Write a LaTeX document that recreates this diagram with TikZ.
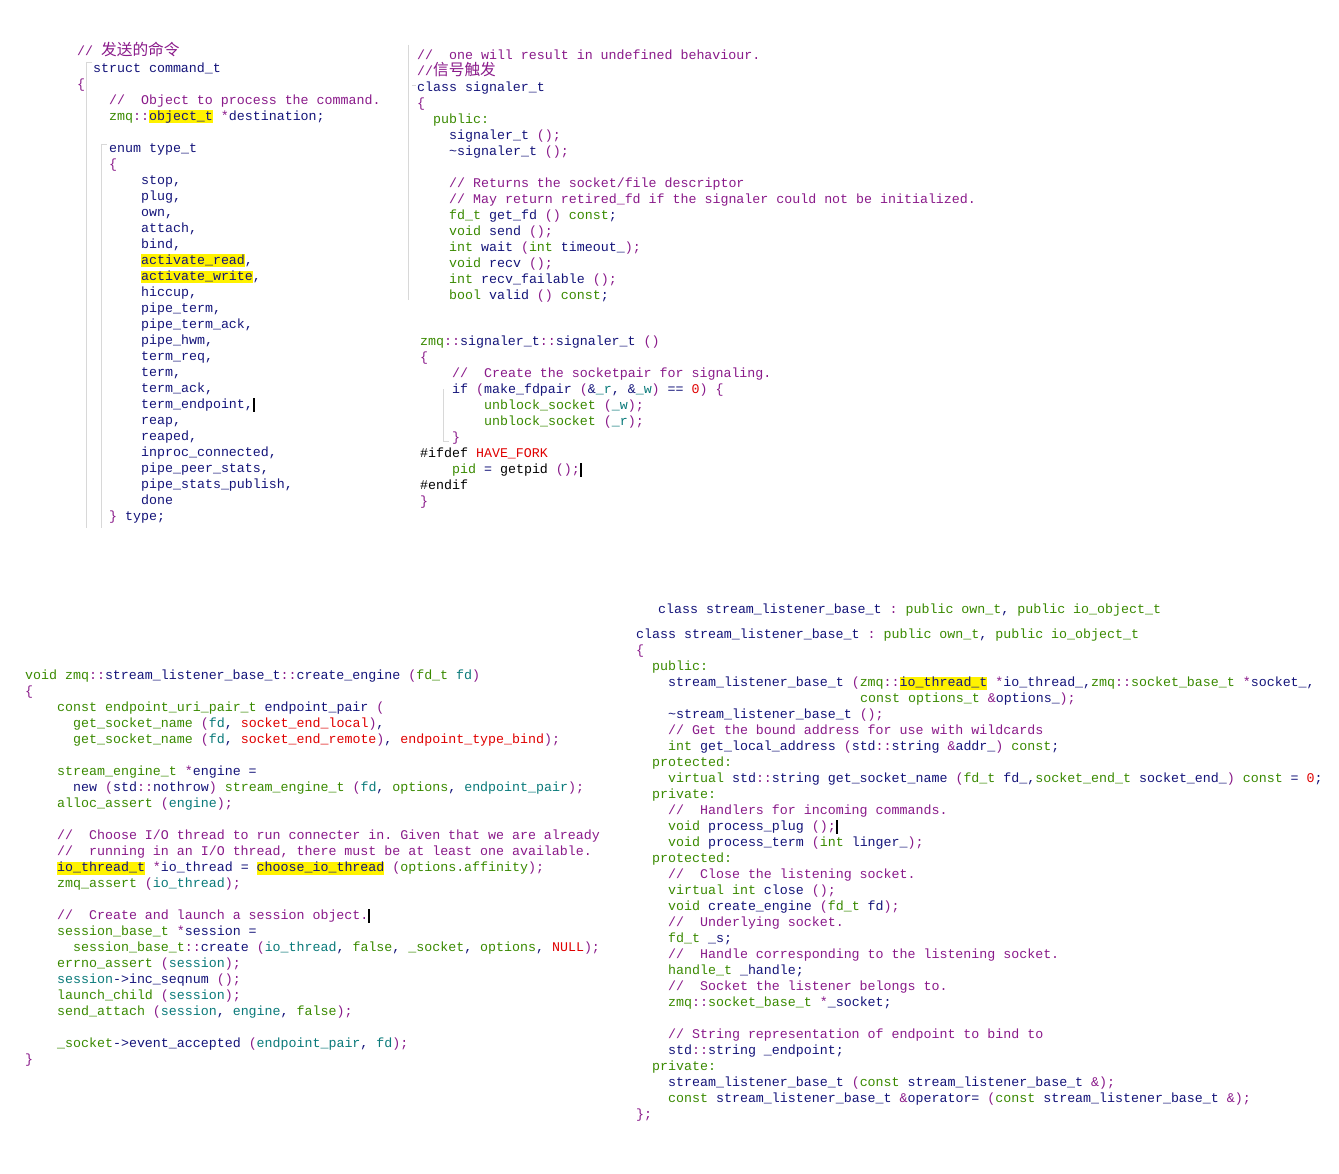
\documentclass[tikz,border=0pt]{standalone}
\usepackage{fontspec}
\setmonofont{Liberation Mono}
\newfontfamily\cjk[Scale=1.18]{Noto Sans CJK SC}
\definecolor{code}{HTML}{14147A}
\definecolor{cmtc}{HTML}{8A1A8A}
\definecolor{kwc}{HTML}{3A8A00}
\definecolor{tyc}{HTML}{0A7A7A}
\definecolor{rdc}{HTML}{E00000}
\definecolor{puc}{HTML}{8A1A8A}
\definecolor{guidec}{HTML}{D8D8D8}
\newcommand\Cm[1]{\textcolor{cmtc}{#1}}
\newcommand\Kw[1]{\textcolor{kwc}{#1}}
\newcommand\Ty[1]{\textcolor{tyc}{#1}}
\newcommand\Rd[1]{\textcolor{rdc}{#1}}
\newcommand\Pu[1]{\textcolor{puc}{#1}}
\newcommand\Hl[1]{{\setlength\fboxsep{0pt}\colorbox{yellow}{\rule[-3pt]{0pt}{13pt}#1}}}
\newcommand\Cur{\textcolor{black}{\rule[-3pt]{2pt}{14pt}}}
\tikzset{codeln/.style={anchor=base west,inner sep=0pt,text=code,font=\ttfamily\fontsize{13.3}{16}\selectfont},
guide/.style={draw=guidec,line width=0.8pt}}
\newcommand\cl[3]{\node[codeln] at (#1pt,-#2pt-4.5pt) {#3};}
\begin{document}
\begin{tikzpicture}[x=1pt,y=1pt]
\useasboundingbox[fill=white] (0,0) rectangle (1339,-1174);
% guides
\draw[guide] (86,-62) -- (86,-528);
\draw[guide] (86,-62) -- (92,-62);
\draw[guide] (101,-144) -- (101,-528);
\draw[guide] (101,-144) -- (107,-144);
\draw[guide] (408,-45) -- (408,-300);
\draw[guide] (412,-85) -- (416,-85);
\draw[guide] (443,-389) -- (443,-441);
\draw[guide] (443,-441) -- (449,-441);
% top-left
\cl{77}{51}{\Cm{// {\cjk 发送的命令}}}
\cl{93}{68}{struct command\_t}
\cl{77}{84}{\Pu{\{}}
\cl{109}{100}{\Cm{//\ \ Object to process the command.}}
\cl{109}{116}{\Kw{zmq}\Pu{::}\Hl{object\_t} \Pu{*}destination;}
\cl{109}{148}{enum type\_t}
\cl{109}{164}{\Pu{\{}}
\cl{141}{180}{stop,}
\cl{141}{196}{plug,}
\cl{141}{212}{own,}
\cl{141}{228}{attach,}
\cl{141}{244}{bind,}
\cl{141}{260}{\Hl{activate\_read},}
\cl{141}{276}{\Hl{activate\_write},}
\cl{141}{292}{hiccup,}
\cl{141}{308}{pipe\_term,}
\cl{141}{324}{pipe\_term\_ack,}
\cl{141}{340}{pipe\_hwm,}
\cl{141}{356}{term\_req,}
\cl{141}{372}{term,}
\cl{141}{388}{term\_ack,}
\cl{141}{404}{term\_endpoint,\Cur}
\cl{141}{420}{reap,}
\cl{141}{436}{reaped,}
\cl{141}{452}{inproc\_connected,}
\cl{141}{468}{pipe\_peer\_stats,}
\cl{141}{484}{pipe\_stats\_publish,}
\cl{141}{500}{done}
\cl{109}{516}{\Pu{\}} type;}
% top-right
\cl{417}{55}{\Cm{//\ \ one will result in undefined behaviour.}}
\cl{417}{71}{\Cm{//{\cjk 信号触发}}}
\cl{417}{87}{class signaler\_t}
\cl{417}{103}{\Pu{\{}}
\cl{433}{119}{\Kw{public:}}
\cl{449}{135}{signaler\_t \Pu{();}}
\cl{449}{151}{\string~signaler\_t \Pu{();}}
\cl{449}{183}{\Cm{// Returns the socket/file descriptor}}
\cl{449}{199}{\Cm{// May return retired\_fd if the signaler could not be initialized.}}
\cl{449}{215}{\Kw{fd\_t} get\_fd \Pu{()} \Kw{const};}
\cl{449}{231}{\Kw{void} send \Pu{();}}
\cl{449}{247}{\Kw{int} wait \Pu{(}\Kw{int} timeout\_\Pu{);}}
\cl{449}{263}{\Kw{void} recv \Pu{();}}
\cl{449}{279}{\Kw{int} recv\_failable \Pu{();}}
\cl{449}{295}{\Kw{bool} valid \Pu{()} \Kw{const};}
\cl{420}{341}{\Kw{zmq}\Pu{::}signaler\_t\Pu{::}signaler\_t \Pu{()}}
\cl{420}{357}{\Pu{\{}}
\cl{452}{373}{\Cm{//\ \ Create the socketpair for signaling.}}
\cl{452}{389}{if \Pu{(}make\_fdpair \Pu{(}\&\Ty{\_r}, \&\Ty{\_w}\Pu{)} == \Rd{0}\Pu{) \{}}
\cl{484}{405}{\Kw{unblock\_socket} \Pu{(}\Ty{\_w}\Pu{);}}
\cl{484}{421}{\Kw{unblock\_socket} \Pu{(}\Ty{\_r}\Pu{);}}
\cl{452}{437}{\Pu{\}}}
\cl{420}{453}{\textcolor{black}{\#ifdef} \Rd{HAVE\_FORK}}
\cl{452}{469}{\Kw{pid} = \textcolor{black}{getpid} \Pu{();}\Cur}
\cl{420}{485}{\textcolor{black}{\#endif}}
\cl{420}{501}{\Pu{\}}}
% bottom-left
\cl{25}{675}{\Kw{void} \Kw{zmq}\Pu{::}stream\_listener\_base\_t\Pu{::}create\_engine \Pu{(}\Kw{fd\_t} \Ty{fd}\Pu{)}}
\cl{25}{691}{\Pu{\{}}
\cl{57}{707}{\Kw{const endpoint\_uri\_pair\_t} endpoint\_pair \Pu{(}}
\cl{73}{723}{\Kw{get\_socket\_name} \Pu{(}\Ty{fd}, \Rd{socket\_end\_local}\Pu{)},}
\cl{73}{739}{\Kw{get\_socket\_name} \Pu{(}\Ty{fd}, \Rd{socket\_end\_remote}\Pu{)}, \Rd{endpoint\_type\_bind}\Pu{);}}
\cl{57}{771}{\Kw{stream\_engine\_t} \Pu{*}engine =}
\cl{73}{787}{new \Pu{(}std\Pu{::}nothrow\Pu{)} \Kw{stream\_engine\_t} \Pu{(}\Ty{fd}, \Kw{options}, \Ty{endpoint\_pair}\Pu{);}}
\cl{57}{803}{\Kw{alloc\_assert} \Pu{(}\Ty{engine}\Pu{);}}
\cl{57}{835}{\Cm{//\ \ Choose I/O thread to run connecter in. Given that we are already}}
\cl{57}{851}{\Cm{//\ \ running in an I/O thread, there must be at least one available.}}
\cl{57}{867}{\Hl{io\_thread\_t} \Pu{*}io\_thread = \Hl{choose\_io\_thread} \Pu{(}\Kw{options.affinity}\Pu{);}}
\cl{57}{883}{\Kw{zmq\_assert} \Pu{(}\Ty{io\_thread}\Pu{);}}
\cl{57}{915}{\Cm{//\ \ Create and launch a session object.}\Cur}
\cl{57}{931}{\Kw{session\_base\_t} \Pu{*}session =}
\cl{73}{947}{\Kw{session\_base\_t}\Pu{::}create \Pu{(}\Ty{io\_thread}, \Kw{false}, \Kw{\_socket}, \Kw{options}, \Rd{NULL}\Pu{);}}
\cl{57}{963}{\Kw{errno\_assert} \Pu{(}\Ty{session}\Pu{);}}
\cl{57}{979}{\Ty{session}->inc\_seqnum \Pu{();}}
\cl{57}{995}{\Kw{launch\_child} \Pu{(}\Ty{session}\Pu{);}}
\cl{57}{1011}{\Kw{send\_attach} \Pu{(}\Ty{session}, \Ty{engine}, \Kw{false}\Pu{);}}
\cl{57}{1043}{\Kw{\_socket}->event\_accepted \Pu{(}\Ty{endpoint\_pair}, \Ty{fd}\Pu{);}}
\cl{25}{1059}{\Pu{\}}}
% bottom-right
\cl{658}{609}{class stream\_listener\_base\_t \Pu{:} \Kw{public own\_t}, \Kw{public io\_object\_t}}
\cl{636}{634}{class stream\_listener\_base\_t \Pu{:} \Kw{public own\_t}, \Kw{public io\_object\_t}}
\cl{636}{650}{\Pu{\{}}
\cl{652}{666}{\Kw{public:}}
\cl{668}{682}{stream\_listener\_base\_t \Pu{(}\Kw{zmq}\Pu{::}\Hl{io\_thread\_t} \Pu{*}io\_thread\_,\Kw{zmq}\Pu{::}\Kw{socket\_base\_t} \Pu{*}socket\_,}
\cl{860}{698}{\Kw{const options\_t} \Pu{\&}options\_\Pu{);}}
\cl{668}{714}{\string~stream\_listener\_base\_t \Pu{();}}
\cl{668}{730}{\Cm{// Get the bound address for use with wildcards}}
\cl{668}{746}{\Kw{int} get\_local\_address \Pu{(}std\Pu{::}string \Pu{\&}addr\_\Pu{)} \Kw{const};}
\cl{652}{762}{\Kw{protected:}}
\cl{668}{778}{\Kw{virtual} std\Pu{::}string get\_socket\_name \Pu{(}\Kw{fd\_t} fd\_,\Kw{socket\_end\_t} socket\_end\_\Pu{)} \Kw{const} = \Rd{0};}
\cl{652}{794}{\Kw{private:}}
\cl{668}{810}{\Cm{//\ \ Handlers for incoming commands.}}
\cl{668}{826}{\Kw{void} process\_plug \Pu{();}\Cur}
\cl{668}{842}{\Kw{void} process\_term \Pu{(}\Kw{int} linger\_\Pu{);}}
\cl{652}{858}{\Kw{protected:}}
\cl{668}{874}{\Cm{//\ \ Close the listening socket.}}
\cl{668}{890}{\Kw{virtual int} close \Pu{();}}
\cl{668}{906}{\Kw{void} create\_engine \Pu{(}\Kw{fd\_t} fd\Pu{);}}
\cl{668}{922}{\Cm{//\ \ Underlying socket.}}
\cl{668}{938}{\Kw{fd\_t} \_s;}
\cl{668}{954}{\Cm{//\ \ Handle corresponding to the listening socket.}}
\cl{668}{970}{\Kw{handle\_t} \_handle;}
\cl{668}{986}{\Cm{//\ \ Socket the listener belongs to.}}
\cl{668}{1002}{\Kw{zmq}\Pu{::}\Kw{socket\_base\_t} \Pu{*}\_socket;}
\cl{668}{1034}{\Cm{// String representation of endpoint to bind to}}
\cl{668}{1050}{std\Pu{::}string \_endpoint;}
\cl{652}{1066}{\Kw{private:}}
\cl{668}{1082}{stream\_listener\_base\_t \Pu{(}\Kw{const} stream\_listener\_base\_t \Pu{\&);}}
\cl{668}{1098}{\Kw{const} stream\_listener\_base\_t \Pu{\&}operator= \Pu{(}\Kw{const} stream\_listener\_base\_t \Pu{\&);}}
\cl{636}{1114}{\Pu{\};}}
\end{tikzpicture}
\end{document}
